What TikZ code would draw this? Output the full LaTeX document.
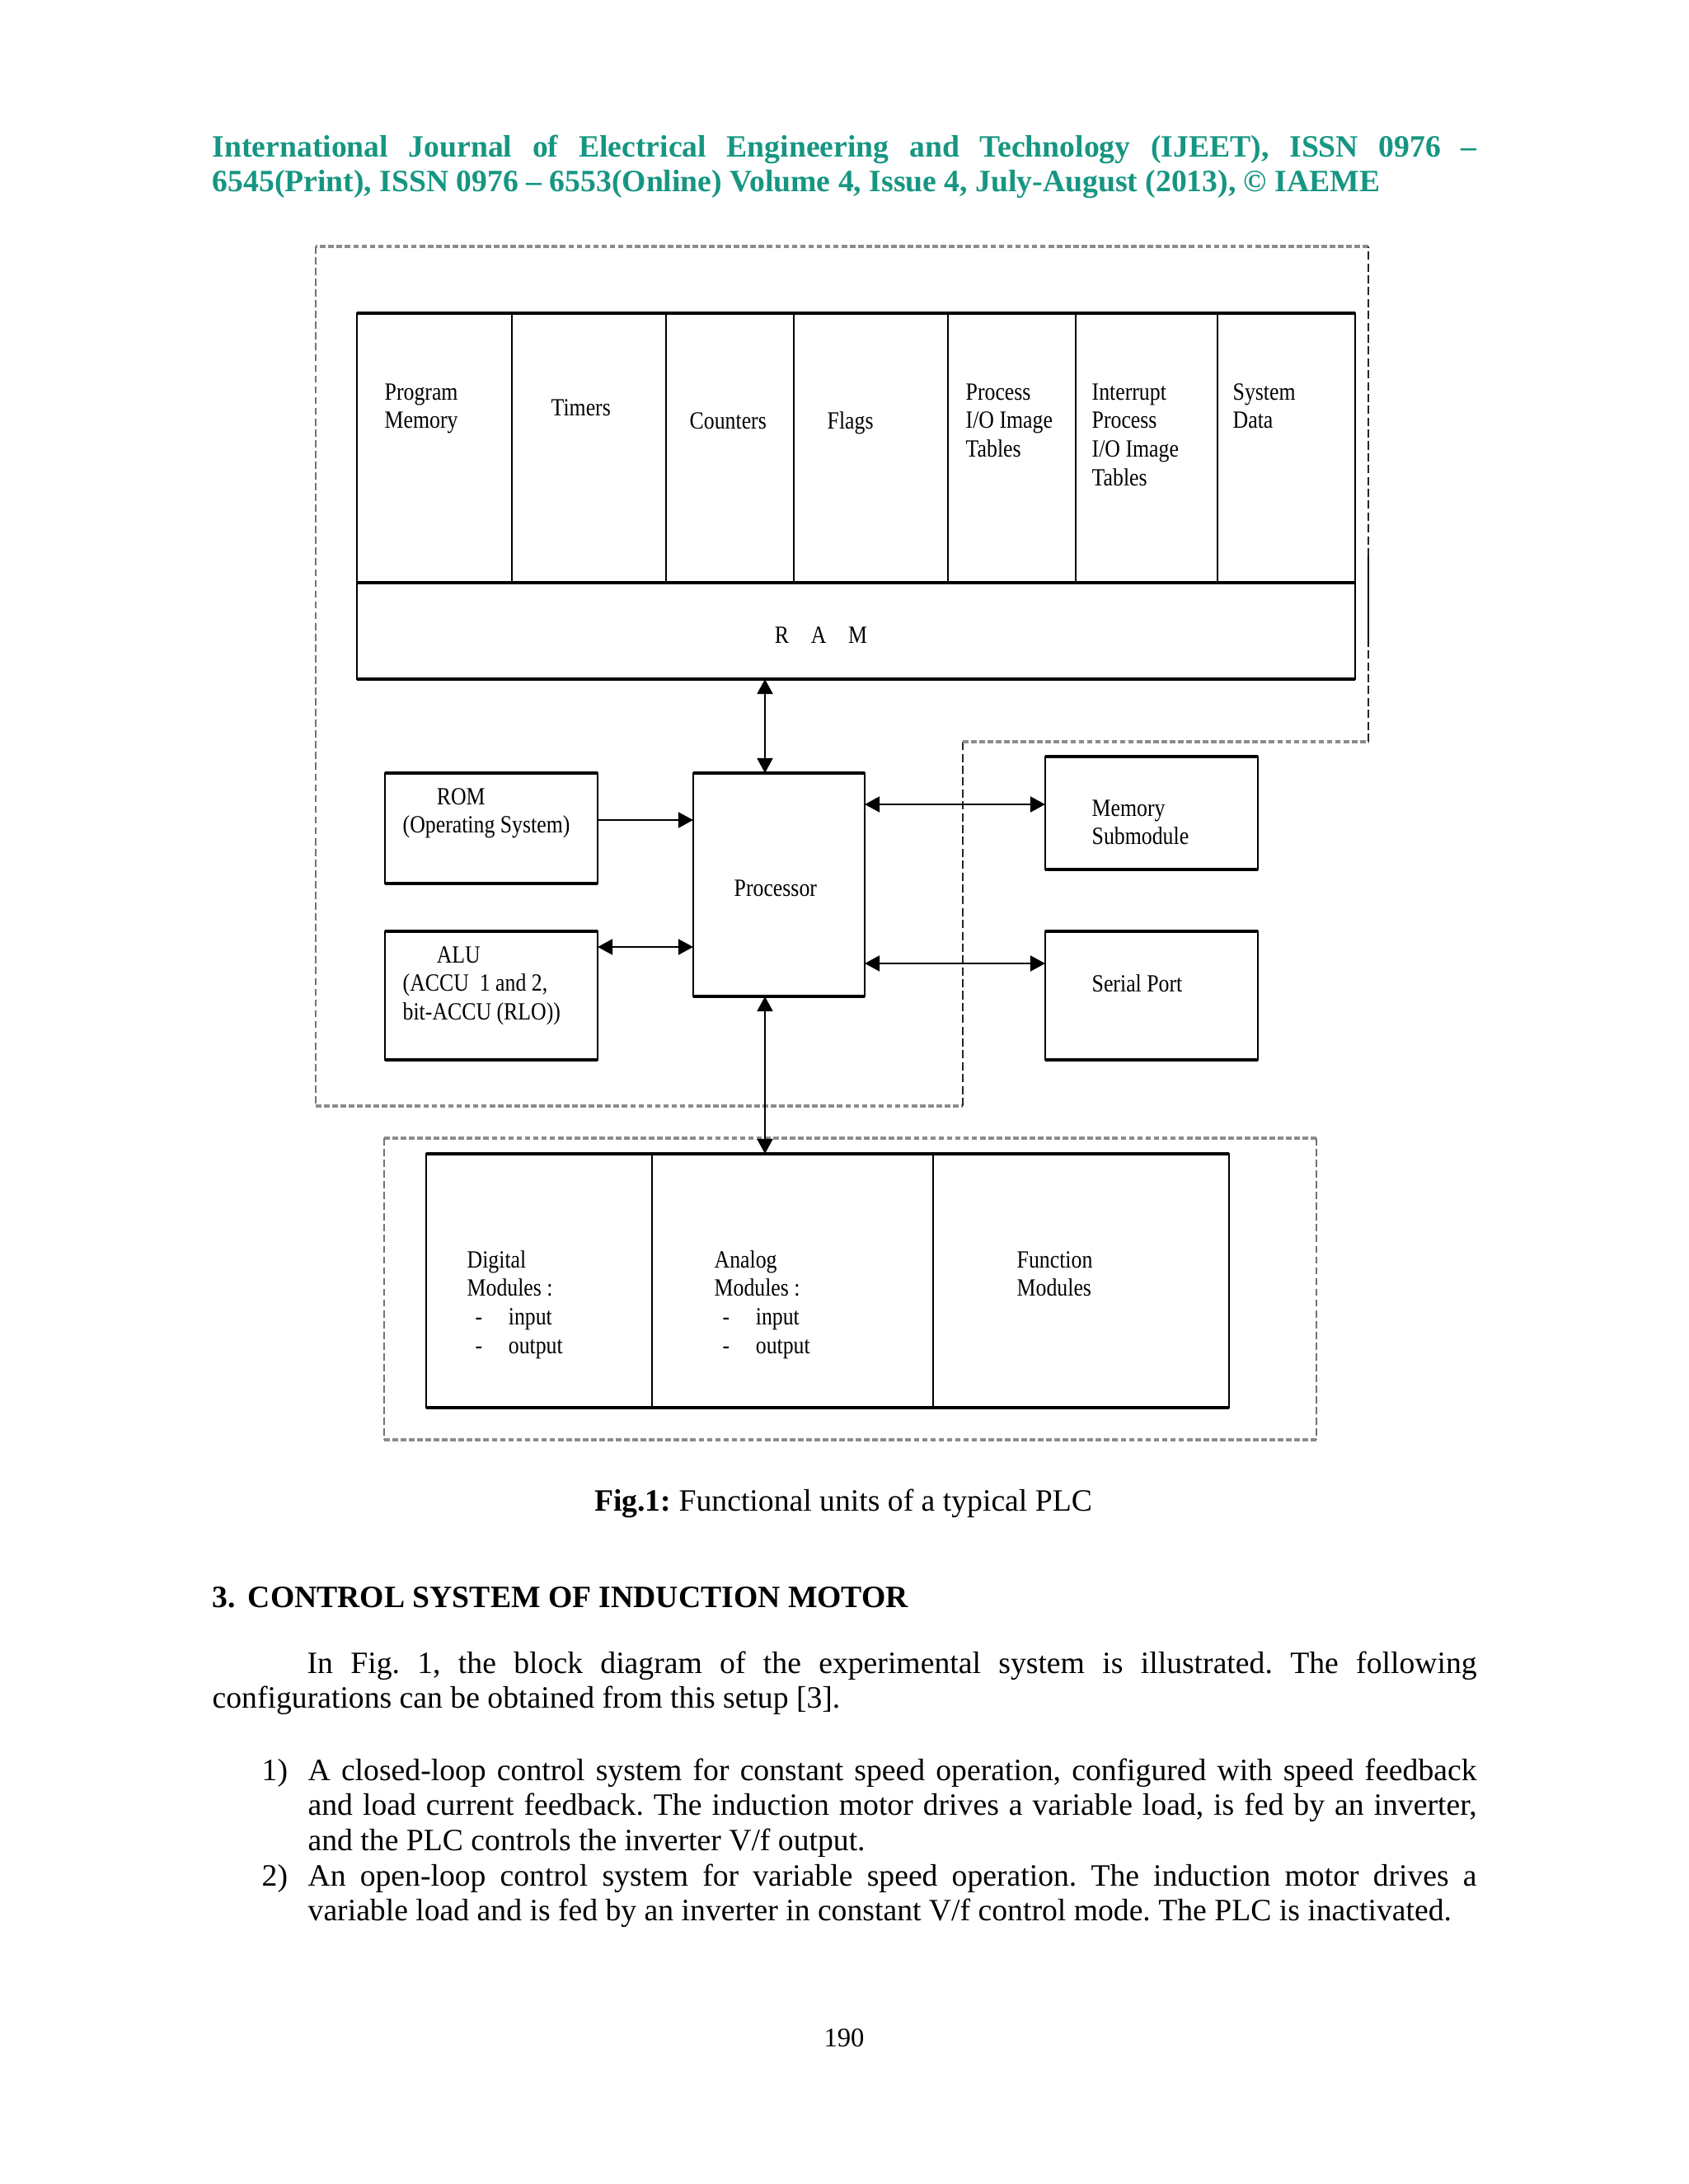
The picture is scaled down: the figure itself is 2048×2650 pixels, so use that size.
\documentclass[tikz,border=0pt]{standalone}
\usepackage{fontspec}
\setmainfont{Liberation Serif}
\newfontfamily\diagfont[FakeStretch=0.86]{Liberation Serif}
\usetikzlibrary{fit,arrows.meta}
\definecolor{hdteal}{RGB}{22,150,130}
\newcommand\rows[1]{\begin{tabular}[t]{@{}l@{}}#1\end{tabular}}
\newcommand\bodyfont{\fontsize{11.3}{13}\selectfont}
\newcommand\dfont{\diagfont\fontsize{9}{10.4}\selectfont}
\frenchspacing
\begin{document}
\begin{tikzpicture}[x=0.29883bp,y=-0.29883bp,
  box/.style={draw, line width=0.75bp, inner sep=0pt, outer sep=0pt},
  hl/.style={line width=1.1bp},
  lbl/.style={anchor=base west, inner sep=0pt, font=\dfont},
  txt/.style={anchor=base west, inner sep=0pt, font=\bodyfont},
  gdash/.style={draw=black!45, line width=1.1bp, dash pattern=on 2bp off 1bp},
  vdash/.style={draw=black!85, line width=0.8bp, dash pattern=on 3bp off 1.3bp},
  gvdash/.style={draw=black!55, line width=0.8bp, dash pattern=on 2.6bp off 1.3bp},
  conn/.style={line width=0.85bp},
  dbl/.style={conn, {Triangle[length=5.4bp,width=5.6bp]}-{Triangle[length=5.4bp,width=5.6bp]}},
  sgl/.style={conn, -{Triangle[length=5.4bp,width=5.6bp]}}
]
\fill[white] (0,0) rectangle (2048,2650);
\useasboundingbox (0,0) rectangle (2048,2650);

% ---------- header ----------
\node[txt, text=hdteal, font=\bodyfont\bfseries] (h1) at (257,190)
  {\makebox[458.4bp][s]{International Journal of Electrical Engineering and Technology (IJEET), ISSN 0976 –}};
\node[txt, text=hdteal, font=\bodyfont\bfseries] (h2) at (257,232)
  {6545(Print), ISSN 0976 – 6553(Online) Volume 4, Issue 4, July-August (2013), © IAEME};

% ---------- dashed outlines ----------
\draw[gdash] (1660,299) -- (383,299);
\draw[gvdash] (383,299) -- (383,1342);
\draw[gdash] (383,1342) -- (1168,1342);
\draw[vdash] (1168,1342) -- (1168,900);
\draw[gdash] (1168,900) -- (1660,900);
\draw[vdash] (1660,900) -- (1660,785);
\draw[line width=0.8bp] (1660,785) -- (1660,675);
\draw[vdash] (1660,675) -- (1660,299);

\draw[gdash] (466,1381) -- (1597,1381);
\draw[gdash] (466,1747) -- (1597,1747);
\draw[gvdash] (466,1381) -- (466,1747);
\draw[gvdash] (1597,1381) -- (1597,1747);

% ---------- memory block ----------
\node[box, fit={(433,380) (621,707)}] (c1) {};
\node[box, fit={(621,380) (808,707)}] (c2) {};
\node[box, fit={(808,380) (963,707)}] (c3) {};
\node[box, fit={(963,380) (1150,707)}] (c4) {};
\node[box, fit={(1150,380) (1305,707)}] (c5) {};
\node[box, fit={(1305,380) (1477,707)}] (c6) {};
\node[box, fit={(1477,380) (1644,707)}] (c7) {};
\node[box, fit={(433,707) (1644,824)}] (ram) {};

% ---------- CPU area ----------
\node[box, fit={(467,938) (725,1072)}] (rom) {};
\node[box, fit={(467,1130) (725,1286)}] (alu) {};
\node[box, fit={(841,938) (1049,1209)}] (proc) {};
\node[box, fit={(1268,918) (1526,1055)}] (msub) {};
\node[box, fit={(1268,1130) (1526,1286)}] (ser) {};

% ---------- modules ----------
\node[box, fit={(517,1400) (791,1708)}] (dm) {};
\node[box, fit={(791,1400) (1132,1708)}] (am) {};
\node[box, fit={(1132,1400) (1491,1708)}] (fm) {};

% heavier horizontal edges
\draw[hl] (c1.north west) -- (c7.north east);
\draw[hl] (ram.north west) -- (ram.north east);
\draw[hl] (ram.south west) -- (ram.south east);
\foreach \n in {rom,alu,proc,msub,ser}{
  \draw[hl] (\n.north west) -- (\n.north east);
  \draw[hl] (\n.south west) -- (\n.south east);
}
\draw[hl] (dm.north west) -- (fm.north east);
\draw[hl] (dm.south west) -- (fm.south east);

% ---------- connectors ----------
\coordinate (ax) at (928,0);
\coordinate (yrom) at (0,995);
\coordinate (yalu) at (0,1149);
\coordinate (yms) at (0,976);
\coordinate (ysp) at (0,1169);
\draw[dbl] (ram.south -| ax) -- (proc.north -| ax);
\draw[dbl] (proc.south -| ax) -- (am.north -| ax);
\draw[sgl] (rom.east |- yrom) -- (proc.west |- yrom);
\draw[dbl] (alu.east |- yalu) -- (proc.west |- yalu);
\draw[dbl] (proc.east |- yms) -- (msub.west |- yms);
\draw[dbl] (proc.east |- ysp) -- (ser.west |- ysp);

% ---------- diagram labels ----------
\node[lbl] (tpm) at (466,485) {\rows{Program\\Memory}};
\node[lbl] (tti) at (668,504) {Timers};
\node[lbl] (tco) at (836,520) {Counters};
\node[lbl] (tfl) at (1003,520) {Flags};
\node[lbl] (tpi) at (1171,485) {\rows{Process\\I/O Image\\Tables}};
\node[lbl] (tin) at (1324,485) {\rows{Interrupt\\Process\\I/O Image\\Tables}};
\node[lbl] (tsd) at (1495,485) {\rows{System\\Data}};
\node[lbl, anchor=base] (tram) at (996,780) {R\hspace{8pt}A\hspace{8pt}M};
\node[lbl] (trom) at (488,976) {\rows{\hspace*{12.3bp}ROM\\(Operating System)}};
\node[lbl] (talu) at (488,1168) {\rows{\hspace*{12.3bp}ALU\\(ACCU\ \ 1 and 2,\\bit-ACCU (RLO))}};
\node[lbl] (tproc) at (890,1087) {Processor};
\node[lbl] (tms) at (1324,990) {\rows{Memory\\Submodule}};
\node[lbl] (tsp) at (1324,1203) {Serial Port};
\node[lbl] (tdm) at (566,1538) {\rows{Digital\\Modules :\\\hspace*{3bp}\makebox[12bp][l]{-}input\\\hspace*{3bp}\makebox[12bp][l]{-}output}};
\node[lbl] (tam) at (866,1538) {\rows{Analog\\Modules :\\\hspace*{3bp}\makebox[12bp][l]{-}input\\\hspace*{3bp}\makebox[12bp][l]{-}output}};
\node[lbl] (tfm) at (1233,1538) {\rows{Function\\Modules}};

% ---------- caption and text ----------
\node[txt, anchor=base] (cap) at (1023,1833) {\textbf{Fig.1:} Functional units of a typical PLC};
\node[txt] (sec) at (257,1950) {\textbf{3.\hspace{4.5bp}CONTROL SYSTEM OF INDUCTION MOTOR}};
\node[txt] (p1) at (372,2030) {\makebox[424bp][s]{In Fig. 1, the block diagram of the experimental system is illustrated. The following}};
\node[txt] (p2) at (257,2072) {configurations can be obtained from this setup [3].};
\node[txt] (n1) at (317,2160) {1)};
\node[txt] (l1) at (373,2160) {\makebox[423.7bp][s]{A closed-loop control system for constant speed operation, configured with speed feedback}};
\node[txt] (l2) at (373,2202) {\makebox[423.7bp][s]{and load current feedback. The induction motor drives a variable load, is fed by an inverter,}};
\node[txt] (l3) at (373,2245) {and the PLC controls the inverter V/f output.};
\node[txt] (n2) at (317,2288) {2)};
\node[txt] (l4) at (373,2288) {\makebox[423.7bp][s]{An open-loop control system for variable speed operation. The induction motor drives a}};
\node[txt] (l5) at (373,2330) {variable load and is fed by an inverter in constant V/f control mode. The PLC is inactivated.};
\node[txt, anchor=base, font=\fontsize{9.8}{11}\selectfont] (pg) at (1024,2483) {190};
\end{tikzpicture}
\end{document}
